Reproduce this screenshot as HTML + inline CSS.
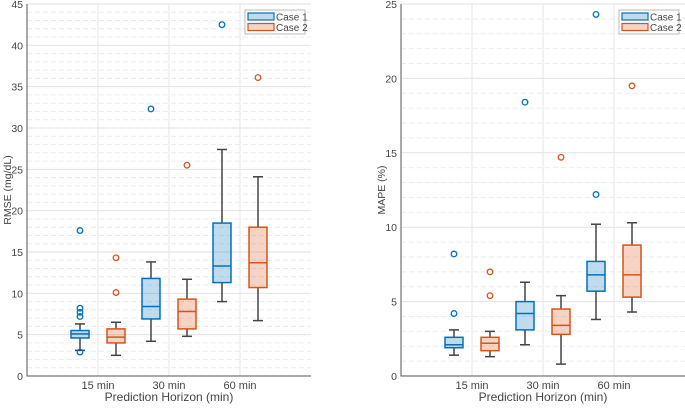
<!DOCTYPE html>
<html><head><meta charset="utf-8"><style>
body{margin:0;background:#fff;}
svg text{font-family:"Liberation Sans",sans-serif;fill:#444;}
</style></head><body>
<svg id="chart" width="685" height="404" viewBox="0 0 685 404" xmlns="http://www.w3.org/2000/svg"></svg>
<script>
const categories = ["15 min","30 min","60 min"];
const seriesNames = ["Case 1","Case 2"];
// left panel RMSE: [q1, median, q3, whiskerLow, whiskerHigh]
const rmseCase1 = [[4.6,5.1,5.5,3.1,6.3],[6.9,8.4,11.8,4.2,13.8],[11.3,13.3,18.5,9.0,27.4]];
const rmseCase2 = [[4.0,4.7,5.7,2.5,6.5],[5.7,7.8,9.3,4.8,11.7],[10.7,13.7,18.0,6.7,24.1]];
const rmseOut1 = [[2.9,7.2,7.7,8.2,17.6],[32.3],[42.5]];
const rmseOut2 = [[10.1,14.3],[25.5],[36.1]];
const rmseTicks = [0,5,10,15,20,25,30,35,40,45];
// right panel MAPE
const mapeCase1 = [[1.9,2.1,2.6,1.4,3.1],[3.1,4.2,5.0,2.1,6.3],[5.7,6.8,7.7,3.8,10.2]];
const mapeCase2 = [[1.7,2.2,2.6,1.3,3.0],[2.8,3.4,4.5,0.8,5.4],[5.3,6.8,8.8,4.3,10.3]];
const mapeOut1 = [[4.2,8.2],[18.4],[12.2,24.3]];
const mapeOut2 = [[5.4,7.0],[14.7],[19.5]];
const mapeTicks = [0,5,10,15,20,25];

const svg = document.getElementById('chart');
const NS = 'http://www.w3.org/2000/svg';
function mk(tag, attrs, parent){const e=document.createElementNS(NS,tag);for(const k in attrs)e.setAttribute(k,attrs[k]);(parent||svg).appendChild(e);return e;}
const colors=['#0072BD','#D95319'];
const fills=['rgba(0,114,189,0.25)','rgba(217,83,25,0.25)'];

function panel(px, yMax, ticks, d1, d2, o1, o2, ylabel, pname){
  const g = mk('g',{});
  
  
  const L=px, R=px+284, T=4, B=376;
  const y=v=>B-(v/yMax)*(B-T);
  const x=i=>L+71*(i+1);
  for(let v=0; v<=yMax; v+=1){ if(v%5===0) continue;
    const m=mk('line',{x1:L,x2:R,y1:y(v),y2:y(v),stroke:'#ebebeb','stroke-width':1,'stroke-dasharray':'5,3'},g);
    
    
  }
  ticks.forEach(v=>{
    const l=mk('line',{x1:L,x2:R,y1:y(v),y2:y(v),stroke:'#e2e2e2','stroke-width':1},g);
    
    
    const t=mk('text',{x:L-4,y:y(v)+4,'text-anchor':'end','font-size':10.5},g);
    t.textContent=v;
    
    
  });
  categories.forEach((c,i)=>{
    const l=mk('line',{x1:x(i),x2:x(i),y1:T,y2:B,stroke:'#e6e6e6','stroke-width':1},g);
    
    
    const t=mk('text',{x:x(i),y:389,'text-anchor':'middle','font-size':11},g);
    t.textContent=c;
    
    
  });
  const ax=mk('path',{d:`M${L},${T}V${B}H${R}`,fill:'none',stroke:'#555','stroke-width':1},g);
  
  
  [d1,d2].forEach((data,s)=>{
    const outs=s===0?o1:o2;
    data.forEach((b,i)=>{
      const cx=x(i)+(s===0?-18:18), w=18;
      const bg=mk('g',{},g);
      
      
      mk('line',{x1:cx,x2:cx,y1:y(b[2]),y2:y(b[4]),stroke:'#444','stroke-width':1.5},bg);
      mk('line',{x1:cx,x2:cx,y1:y(b[0]),y2:y(b[3]),stroke:'#444','stroke-width':1.5},bg);
      mk('line',{x1:cx-5,x2:cx+5,y1:y(b[4]),y2:y(b[4]),stroke:'#444','stroke-width':1.5},bg);
      mk('line',{x1:cx-5,x2:cx+5,y1:y(b[3]),y2:y(b[3]),stroke:'#444','stroke-width':1.5},bg);
      mk('rect',{x:cx-w/2,y:y(b[2]),width:w,height:y(b[0])-y(b[2]),fill:fills[s],stroke:colors[s],'stroke-width':1.5},bg);
      mk('line',{x1:cx-w/2,x2:cx+w/2,y1:y(b[1]),y2:y(b[1]),stroke:colors[s],'stroke-width':1.5},bg);
      outs[i].forEach(v=>{
        const o=mk('circle',{cx:cx,cy:y(v),r:2.8,fill:'none',stroke:colors[s],'stroke-width':1.3},g);
        
        
      });
    });
  });
  const yl=mk('text',{x:0,y:0,'text-anchor':'middle','font-size':10.5,transform:`translate(${L-16},${(T+B)/2}) rotate(-90)`},g);
  yl.textContent=ylabel;
  
  
  const xl=mk('text',{x:x(1),y:401,'text-anchor':'middle','font-size':12},g);
  xl.textContent='Prediction Horizon (min)';
  
  
  const lg=mk('g',{},g);
  
  
  const lx=R-66, ly=10;
  mk('rect',{x:lx,y:ly,width:60,height:24,fill:'#fff',stroke:'#bbb','stroke-width':1},lg);
  seriesNames.forEach((n,s)=>{
    const e=mk('g',{},lg);
    
    
    mk('rect',{x:lx+3,y:ly+3+s*10.5,width:26,height:7,fill:fills[s],stroke:colors[s],'stroke-width':1.2},e);
    const t=mk('text',{x:lx+31,y:ly+10.5+s*10.5,'font-size':10,fill:'#222'},e);
    t.textContent=n;
  });
}
panel(27,45,rmseTicks,rmseCase1,rmseCase2,rmseOut1,rmseOut2,'RMSE (mg/dL)','rmse-panel');
panel(401,25,mapeTicks,mapeCase1,mapeCase2,mapeOut1,mapeOut2,'MAPE (%)','mape-panel');
</script>
</body></html>
